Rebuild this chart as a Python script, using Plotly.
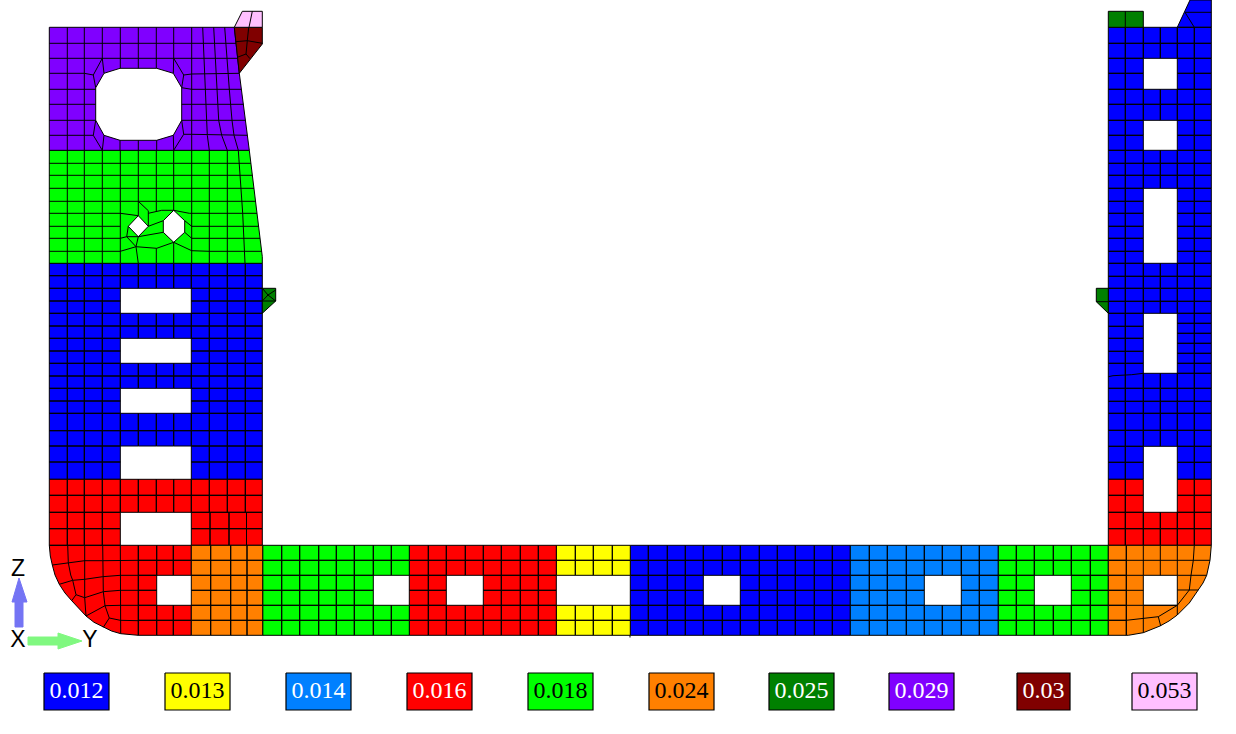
import plotly.graph_objects as go

# thickness groups (m) and their fringe colours
thickness = ['0.012', '0.013', '0.014', '0.016', '0.018', '0.024', '0.025', '0.029', '0.03', '0.053']
colors = ['#0000ff', '#ffff00', '#0080ff', '#ff0000', '#00ff00', '#ff8000', '#008000', '#8000ff', '#800000', '#ffc0ff']
label_colors = ['white', 'black', 'white', 'white', 'black', 'black', 'white', 'white', 'white', 'black']
key_left = [44, 165, 286, 407, 528, 649, 769, 889, 1017, 1132]
key_right = [109, 230, 351, 472, 593, 714, 834, 954, 1070, 1197]
key_top = 673
key_bottom = 710

# mesh lines of the section
left_cols = [49.3, 67.3, 84.3, 102.3, 120.3, 138.3, 156.3, 173.7, 191.3, 209.3, 227.3, 245.3, 262.3]
left_rows = [263.3, 275.7, 288.3, 301, 313.3, 326, 338.3, 351, 363.3, 376, 388.3, 401, 413.3, 430.7, 446, 462, 479.3]
left_holes = [(120.3, 191.3, 288.3, 313.3), (120.3, 191.3, 338.3, 363.3), (120.3, 191.3, 388.3, 413.3), (120.3, 191.3, 446, 479.3)]
red_rows_a = [479.3, 495.3, 512.3]
red_rows_b = [512.3, 528.7, 545.3]
red_cols_b = [49.3, 67.3, 84.3, 102.3, 120.3]
red_cols_c = [191.3, 210, 229, 246.5, 262.3]
keel_rows = [545.3, 560.3, 575.3, 590.3, 605.3, 620.3, 635.3]
corner_cols = [138.3, 156.7, 173.3, 191.3]
orange_cols = [191.3, 210.7, 230.7, 247, 262.7]
green_a_cols = [262.7, 281.7, 299.7, 318.7, 336.3, 354.3, 373.3, 391.3, 409.3]
red_a_cols = [409.3, 428.3, 446.3, 465.3, 483.3, 501.3, 520.3, 538.3, 556.3]
yellow_cols = [556.3, 575.3, 593.3, 612.3, 630.3]
blue_cols = [630.3, 648.3, 667.3, 685.3, 703.3, 722.3, 740.3, 759.3, 777.3, 795.3, 814.3, 832.3, 850.3]
sky_cols = [850.3, 869.3, 887.3, 906.3, 924.3, 942.3, 961.3, 979.3, 998.3]
green_b_cols = [998.3, 1016.3, 1034.3, 1053.3, 1071.3, 1090.3, 1108.3]
keel_holes = [(156.7, 191.3, 575.3, 605.3), (373.3, 409.3, 575.3, 605.3), (446.3, 483.3, 575.3, 605.3),
              (556.3, 630.3, 575.3, 605.3), (703.3, 740.3, 575.3, 605.3), (924.3, 961.3, 575.3, 605.3),
              (1034.3, 1071.3, 575.3, 605.3)]

right_cols = [1108.3, 1125.3, 1143.3, 1160.3, 1177.3, 1194.3, 1211.3]
right_rows = [27.3, 43.3, 58.3, 73.3, 89.3, 104.3, 120.3, 135.3, 150.3, 163.3, 175.3, 188.3, 201.3, 213.3, 226.3,
              238.3, 251.3, 263.3, 276.3, 288.3, 301.3, 313.3]
right_holes = [(1143.3, 1177.3, 58.3, 89.3), (1143.3, 1177.3, 120.3, 150.3), (1143.3, 1177.3, 188.3, 263.3),
               (1143.3, 1177.3, 446.3, 512.3)]
right_rows_inner = [313.3, 326.3, 338.3, 351.3, 363.3, 388.3]
right_rows_outer = [313.3, 323.3, 333.3, 343.3, 353.3, 363.3, 373.3, 388.3]
right_rows_low = [388.3, 401.3, 413.3, 430.3, 446.3, 462.3, 479.3]
right_rows_red = [479.3, 495.3, 512.3, 528.7, 545.3]

# free shapes: (group index, outline)
free_plates = [
    (7, [(49.3, 27.3), (234.3, 27.3), (239.3, 73.3), (249.3, 150.3), (49.3, 150.3)]),
    (4, [(49.3, 150.3), (249.3, 150.3), (262.3, 256.7), (262.3, 263.3), (49.3, 263.3)]),
    (8, [(234.3, 27.3), (262.3, 27.3), (262.3, 44), (239.3, 73.3)]),
    (9, [(234.3, 27.3), (242.3, 11.3), (262.3, 11.3), (262.3, 27.3)]),
    (6, [(262.3, 288.3), (275.7, 288.3), (275.7, 301), (262.3, 313.3)]),
    (6, [(1108.3, 288.3), (1096.3, 288.3), (1096.3, 301.7), (1108.3, 313.3)]),
    (6, [(1108.3, 11.3), (1143.3, 11.3), (1143.3, 27.3), (1108.3, 27.3)]),
    (0, [(1177.3, 27.3), (1190, 0), (1211.3, 0), (1211.3, 27.3)]),
    (3, [(49.3, 545.3), (50.3, 556), (52.3, 565), (55, 575), (59.3, 584.3), (65, 593), (71.7, 600.7), (78.5, 608.5),
         (86, 616), (94, 622.3), (103.3, 627.3), (111.5, 631), (120.7, 633.7), (133.3, 635.3), (138.3, 635.3),
         (138.3, 545.3)]),
    (5, [(1126.3, 545.3), (1211.3, 545.3), (1210, 560.3), (1206.7, 575.3), (1203, 583), (1198.3, 590), (1189.3, 603),
         (1177.3, 615), (1169, 621), (1160, 626), (1143.3, 632.7), (1128.3, 635.3), (1126.3, 635.3)]),
]

openings = [
    [(95.7, 87.7), (104, 73.3), (120, 68.3), (156.7, 68.3), (173.3, 73.3), (181.7, 87.7), (181.7, 120.3),
     (173.3, 135.3), (156.7, 140.3), (120, 140.3), (104, 135.3), (95.7, 120.3)],
    [(128.3, 226.3), (138.3, 215.7), (148.3, 226.3), (138.3, 236.7)],
    [(163.3, 220.7), (173.7, 210.3), (184.7, 220.7), (184.7, 232.3), (173.7, 242.3), (163.3, 232.3)],
    [(1143.3, 575.3), (1177.3, 575.3), (1177.3, 605.3), (1143.3, 605.3)],
]

mesh_lines = [
    # purple plate, rows
    [(49.3, 43.3), (236, 43.3)], [(49.3, 58.3), (237.7, 58.3)],
    [(49.3, 73.3), (84.3, 73.3), (93.3, 75)], [(183.7, 75), (191.7, 74), (239.3, 73.3)],
    [(49.3, 89.3), (95.7, 89.3)], [(181.7, 87.7), (191.7, 89.3), (241.5, 89.3)],
    [(49.3, 104.3), (95.7, 104.3)], [(181.7, 104.3), (243.7, 104.3)],
    [(49.3, 120.3), (95.7, 120.3)], [(181.7, 120.3), (245.7, 120.3)],
    [(49.3, 135.3), (93.3, 135.3)], [(183.7, 134.3), (191.7, 134.3), (247.5, 135.3)],
    # purple plate, columns
    [(67.3, 27.3), (67.3, 150.3)], [(84.3, 27.3), (84.3, 150.3)], [(102.3, 27.3), (102.3, 58.3)],
    [(120.3, 27.3), (120.3, 68.3)], [(138.3, 27.3), (138.3, 68.3)], [(156.3, 27.3), (156.3, 68.3)],
    [(173.7, 27.3), (173.7, 58.3)], [(191.7, 27.3), (191.7, 150.3)],
    [(102.3, 58.3), (93.3, 75), (95.7, 87.7)], [(102.3, 58.3), (104, 73.3)], [(173.7, 58.3), (173.3, 73.3)],
    [(173.7, 58.3), (183.7, 75), (181.7, 87.7)], [(95.7, 120.3), (93.3, 135.3), (102.3, 150.3)],
    [(104, 135.3), (102.3, 150.3)], [(120, 140.3), (120, 150.3)], [(138.3, 140.3), (138.3, 150.3)],
    [(156.7, 140.3), (156.7, 150.3)], [(181.7, 120.3), (183.7, 134.3), (173.7, 150.3)],
    [(173.3, 135.3), (173.7, 150.3)],
    [(202.7, 27.3), (203.3, 43.3), (204.7, 73.3), (205.3, 89.3), (206, 104.3), (207.3, 135.3), (209.3, 150.3)],
    [(213.7, 27.3), (215.3, 58.3), (216.7, 89.3), (218.7, 120.3), (221.7, 135.3), (227.3, 150.3)],
    [(224.7, 27.3), (226.7, 58.3), (229.3, 89.3), (232, 120.3), (234, 135.3), (238.3, 150.3)],
    # green plate, rows
    [(49.3, 163.3), (250.9, 163.3)], [(49.3, 175.3), (252.4, 175.3)], [(49.3, 188.3), (254, 188.3)],
    [(49.3, 201.3), (191.7, 201.3), (200, 200.7), (220, 201.3), (255.5, 201.3)],
    [(49.3, 213.3), (120.3, 213.3), (138.3, 215.7)],
    [(148.3, 213.3), (161.7, 210.3), (173.7, 210.3), (189.3, 213.3), (257, 213.3)],
    [(49.3, 226.3), (120.3, 226.3)], [(191.7, 226.3), (258.6, 226.3)],
    [(49.3, 238.3), (120.3, 238.3), (126.7, 236.7)], [(191.7, 238.3), (260, 238.3)],
    [(49.3, 251.3), (120.3, 251.3), (136, 246.7), (156.7, 248.3), (173.7, 242.3), (191.7, 250.7), (209.3, 251.3),
     (261.7, 251.3)],
    # green plate, columns
    [(67.3, 150.3), (67.3, 263.3)], [(84.3, 150.3), (84.3, 263.3)], [(102.3, 150.3), (102.3, 263.3)],
    [(120.3, 150.3), (120.3, 263.3)], [(138.3, 150.3), (138.3, 215.7)], [(156.3, 150.3), (156.3, 211.3)],
    [(173.7, 150.3), (173.7, 210.3)], [(191.7, 150.3), (191.7, 263.3)], [(209.3, 150.3), (209.3, 263.3)],
    [(227.3, 150.3), (227.3, 263.3)], [(238.3, 150.3), (240, 176.7), (242.7, 213.3), (245, 263.3)],
    [(138.3, 201.3), (148.3, 210.7), (148.3, 226.3)], [(148.3, 226.3), (163.3, 220.7)],
    [(138.3, 236.7), (163.3, 232.3)], [(138.3, 236.7), (126.7, 236.7), (128.3, 226.3)],
    [(126.7, 236.7), (136, 246.7)], [(138.3, 236.7), (136, 246.7)], [(136, 246.7), (138.3, 263.3)],
    [(156.3, 248.3), (156.3, 263.3)], [(173.7, 242.3), (173.7, 263.3)],
    [(184.7, 220.7), (191.7, 226.3)], [(184.7, 232.3), (191.7, 238.3)],
    # brackets and top plates
    [(248.7, 27.3), (247.3, 40.7)], [(247.3, 40.7), (235.7, 41.7)], [(247.3, 40.7), (262.3, 43.3)],
    [(247.3, 40.7), (246, 54), (237.3, 57.3)], [(246, 54), (250, 58.7)], [(252.3, 11.3), (249, 27.3)],
    [(262.3, 288.3), (268, 295), (275.7, 301)], [(275.7, 290), (268, 295), (262.3, 301)], [(262.3, 301), (275.7, 301)],
    [(1096.3, 301.7), (1108.3, 301.7)], [(1125.3, 11.3), (1125.3, 27.3)],
    [(1185, 12.3), (1211.3, 12.3)], [(1185, 12.3), (1194.3, 27.3)],
    [(1108.3, 376.7), (1113, 375.7), (1131.7, 374.7), (1143.3, 373.3)],
    [(630, 635.3), (630, 637.5)],
    # bilge, port side
    [(52.3, 565), (68.3, 562.7), (84.7, 560.7), (102.7, 560.7), (120.3, 560.3), (138.3, 560.3)],
    [(59.3, 584.3), (72.7, 580.3), (84.7, 579.3), (102.7, 576.7), (120.3, 575.3), (138.3, 575.3)],
    [(71.7, 600.7), (76, 594.7), (84.7, 597.7), (103.3, 591.7), (120.3, 590.3), (138.3, 590.3)],
    [(86, 616), (105, 605.7), (120.3, 605.3), (138.3, 605.3)],
    [(103.3, 627.3), (109.3, 618), (120.3, 620.3), (138.3, 620.7)],
    [(67.7, 545.3), (68.3, 562.7), (70.7, 575), (72.7, 580.3), (76, 594.7)],
    [(84.7, 545.3), (84.7, 560.7), (84.7, 579.3), (84.7, 597.7), (86, 616)],
    [(102.7, 545.3), (102.7, 560.7), (102.7, 576.7), (103.3, 591.7), (105, 605.7), (109.3, 618)],
    [(120.3, 545.3), (120.7, 633.7)],
    # bilge, starboard side
    [(1126.3, 560.3), (1210, 560.3)], [(1126.3, 575.3), (1143.3, 575.3)], [(1177.3, 575.3), (1206.7, 575.3)],
    [(1126.3, 590.3), (1143.3, 590.3)], [(1177.3, 590), (1198.3, 590)], [(1126.3, 605.3), (1177.3, 605.3)],
    [(1126.3, 620.3), (1143.3, 618.3), (1158.3, 616.7), (1177.3, 605.3)],
    [(1143.3, 545.3), (1143.3, 575.3)], [(1143.3, 605.3), (1143.3, 632.7)], [(1160.3, 545.3), (1160.3, 575.3)],
    [(1177.3, 545.3), (1177.3, 575.3)], [(1177.3, 605.3), (1177.3, 615)],
    [(1194.3, 545.3), (1193.3, 560.3), (1191, 575.3), (1189.3, 590), (1177.3, 605.3)],
    [(1158.3, 616.7), (1160.7, 626)],
]


def cells(xs, ys, holes=()):
    out = []
    for x0, x1 in zip(xs[:-1], xs[1:]):
        for y0, y1 in zip(ys[:-1], ys[1:]):
            xc, yc = (x0 + x1) / 2, (y0 + y1) / 2
            if any(h[0] < xc < h[1] and h[2] < yc < h[3] for h in holes):
                continue
            out.append([(x0, y0), (x1, y0), (x1, y1), (x0, y1)])
    return out


# group index -> quads
quads = {i: [] for i in range(len(thickness))}
quads[0] += cells(left_cols, left_rows, left_holes)
quads[3] += cells(left_cols, red_rows_a)
quads[3] += cells(red_cols_b, red_rows_b)
quads[3] += cells(red_cols_c, red_rows_b)
quads[3] += cells(corner_cols, keel_rows, keel_holes)
quads[5] += cells(orange_cols, keel_rows)
quads[4] += cells(green_a_cols, keel_rows, keel_holes)
quads[3] += cells(red_a_cols, keel_rows, keel_holes)
quads[1] += cells(yellow_cols, keel_rows, keel_holes)
quads[0] += cells(blue_cols, keel_rows, keel_holes)
quads[2] += cells(sky_cols, keel_rows, keel_holes)
quads[4] += cells(green_b_cols, keel_rows, keel_holes)
quads[0] += cells(right_cols, right_rows, right_holes)
quads[0] += cells(right_cols[:3], right_rows_inner)
quads[0] += cells(right_cols[2:5], [373.3, 388.3])
quads[0] += cells(right_cols[4:], right_rows_outer)
quads[0] += cells(right_cols, right_rows_low, right_holes)
quads[3] += cells(right_cols, right_rows_red, right_holes)
quads[5] += cells(right_cols[:1] + [1126.3], keel_rows)


def join(polys):
    xs, ys = [], []
    for p in polys:
        xs += [q[0] for q in p] + [p[0][0], None]
        ys += [q[1] for q in p] + [p[0][1], None]
    return xs, ys


fig = go.Figure()

for i, col in enumerate(colors):
    polys = quads[i] + [p for g, p in free_plates if g == i]
    if not polys:
        continue
    px, py = join(polys)
    fig.add_trace(go.Scatter(x=px, y=py, mode='lines', fill='toself', fillcolor=col,
                             line=dict(color='black', width=1), hoverinfo='skip'))

ox, oy = join(openings)
fig.add_trace(go.Scatter(x=ox, y=oy, mode='lines', fill='toself', fillcolor='white',
                         line=dict(color='black', width=1), hoverinfo='skip'))

lx, ly = [], []
for line in mesh_lines:
    lx += [q[0] for q in line] + [None]
    ly += [q[1] for q in line] + [None]
fig.add_trace(go.Scatter(x=lx, y=ly, mode='lines', line=dict(color='black', width=1), hoverinfo='skip'))

# coordinate triad
fig.add_trace(go.Scatter(x=[15, 23, 23, 27, 19, 12, 15, 15], y=[627, 627, 602, 602, 578, 602, 602, 627],
                         mode='lines', fill='toself', fillcolor='#7474f4', line=dict(color='#7474f4', width=1),
                         hoverinfo='skip'))
fig.add_trace(go.Scatter(x=[28, 58, 58, 82, 58, 58, 28, 28], y=[637, 637, 633, 641, 649, 645, 645, 637],
                         mode='lines', fill='toself', fillcolor='#80f880', line=dict(color='#80f880', width=1),
                         hoverinfo='skip'))
fig.add_trace(go.Scatter(x=[18, 18, 90], y=[570, 641, 641], text=['Z', 'X', 'Y'], mode='text',
                         textfont=dict(family='Liberation Sans', size=23, color='black'), hoverinfo='skip'))

# thickness key
for i, t in enumerate(thickness):
    fig.add_trace(go.Scatter(x=[key_left[i], key_right[i], key_right[i], key_left[i], key_left[i]],
                             y=[key_top, key_top, key_bottom, key_bottom, key_top],
                             mode='lines', fill='toself', fillcolor=colors[i],
                             line=dict(color='black', width=1.2), hoverinfo='skip'))
    fig.add_trace(go.Scatter(x=[(key_left[i] + key_right[i]) / 2], y=[(key_top + key_bottom) / 2], text=[t],
                             mode='text', textfont=dict(family='Liberation Serif', size=24, color=label_colors[i]),
                             hoverinfo='skip'))

fig.update_layout(
    width=1236, height=734, showlegend=False,
    margin=dict(l=0, r=0, t=0, b=0),
    paper_bgcolor='white', plot_bgcolor='white',
    xaxis=dict(range=[0, 1236], visible=False, fixedrange=True),
    yaxis=dict(range=[734, 0], visible=False, fixedrange=True),
)

# browser default body margin would push everything 8px off
fig.write_html("out.html", config=dict(displayModeBar=False),
               post_script="document.body.style.margin='0';document.body.style.overflow='hidden';")
